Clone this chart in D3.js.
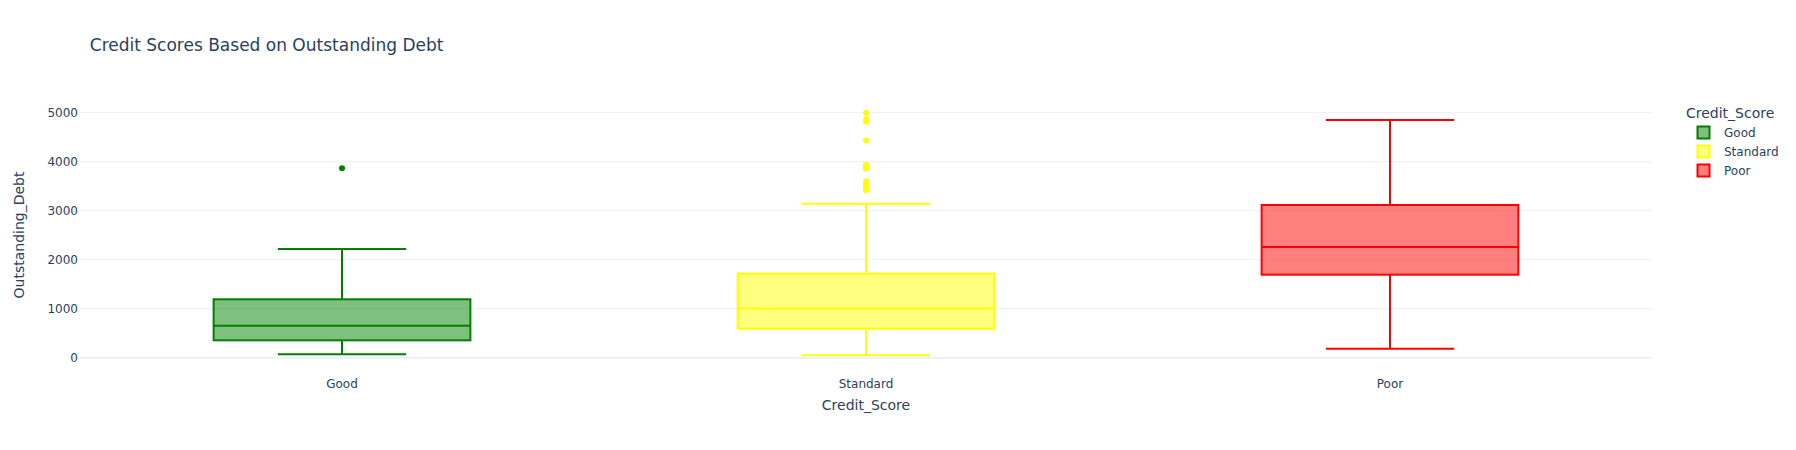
<!DOCTYPE html>
<html>
<head>
<meta charset="utf-8">
<script src="https://cdn.jsdelivr.net/npm/d3@7"></script>
<style>
  html, body { margin: 0; padding: 0; background: #fff; }
  svg { display: block; font-family: "DejaVu Sans", Verdana, sans-serif; }
</style>
</head>
<body>
<svg id="chart" width="1796" height="450"></svg>
<script>
// ---- data ----
const categories = ["Good", "Standard", "Poor"];
const colors = ["green", "yellow", "red"];
const fills = ["rgba(0,128,0,0.5)", "rgba(255,255,0,0.5)", "rgba(255,0,0,0.5)"];
const lowerFence = [69, 50, 184];
const q1 = [355, 593, 1694];
const median = [653, 1006, 2259];
const q3 = [1192, 1717, 3116];
const upperFence = [2218, 3140, 4851];
const outliersGood = [3865];
const outliersStandard = [4998, 4865, 4816, 4430, 3940, 3900, 3857, 3600, 3530, 3470, 3416];
const outliersPoor = [];
const yTicks = [0, 1000, 2000, 3000, 4000, 5000];

const outliers = [outliersGood, outliersStandard, outliersPoor];

const W = 1796, H = 450;
const margin = { left: 80, right: 144, top: 100, bottom: 80 };
const plotL = margin.left, plotR = W - margin.right, plotT = margin.top, plotB = H - margin.bottom;
const textColor = "#2a3f5f";
const gridColor = "#EBF0F8";
const fontFam = '"DejaVu Sans", Verdana, sans-serif';

const svg = d3.select("#chart");

const x = d3.scaleBand().domain(categories).range([plotL, plotR])
  .paddingInner(0.51).paddingOuter(0.255);
const y = d3.scaleLinear().domain([-251, 5259]).range([plotB, plotT]);

// gridlines
const grid = svg.append("g");
grid.selectAll("line").data(yTicks).join("line")
  .attr("x1", plotL).attr("x2", plotR)
  .attr("y1", d => y(d)).attr("y2", d => y(d))
  .attr("stroke", gridColor)
  .attr("stroke-width", d => d === 0 ? 2 : 1);

// y axis labels
const yAxis = d3.axisLeft(y).tickValues(yTicks).tickSize(0).tickPadding(2).tickFormat(d3.format("d"));
const gy = svg.append("g").attr("transform", `translate(${plotL},0)`).call(yAxis);
gy.select(".domain").remove();
gy.selectAll("text").attr("fill", textColor).style("font-size", "12px")
  .style("font-family", fontFam);

// x axis labels
const xAxis = d3.axisBottom(x).tickSize(0).tickPadding(9);
const gx = svg.append("g").attr("transform", `translate(0,${plotB})`).call(xAxis);
gx.select(".domain").remove();
gx.selectAll("text").attr("fill", textColor).style("font-size", "12px")
  .style("font-family", fontFam);

// boxes
const bw = x.bandwidth();
const boxes = svg.append("g").selectAll("g").data(categories).join("g");
boxes.each(function(cat, i) {
  const g = d3.select(this);
  const cx = x(cat) + bw / 2;
  const col = colors[i];
  // whiskers
  g.append("line").attr("x1", cx).attr("x2", cx).attr("y1", y(q3[i])).attr("y2", y(upperFence[i]))
    .attr("stroke", col).attr("stroke-width", 2);
  g.append("line").attr("x1", cx).attr("x2", cx).attr("y1", y(q1[i])).attr("y2", y(lowerFence[i]))
    .attr("stroke", col).attr("stroke-width", 2);
  g.append("line").attr("x1", cx - bw / 4).attr("x2", cx + bw / 4)
    .attr("y1", y(upperFence[i])).attr("y2", y(upperFence[i]))
    .attr("stroke", col).attr("stroke-width", 2);
  g.append("line").attr("x1", cx - bw / 4).attr("x2", cx + bw / 4)
    .attr("y1", y(lowerFence[i])).attr("y2", y(lowerFence[i]))
    .attr("stroke", col).attr("stroke-width", 2);
  // box
  g.append("rect").attr("x", x(cat)).attr("width", bw)
    .attr("y", y(q3[i])).attr("height", y(q1[i]) - y(q3[i]))
    .attr("fill", fills[i]).attr("stroke", col).attr("stroke-width", 2);
  // median
  g.append("line").attr("x1", x(cat)).attr("x2", x(cat) + bw)
    .attr("y1", y(median[i])).attr("y2", y(median[i]))
    .attr("stroke", col).attr("stroke-width", 2);
  // outliers
  g.selectAll("circle").data(outliers[i]).join("circle")
    .attr("cx", cx).attr("cy", d => y(d)).attr("r", 3).attr("fill", col);
});

// title
svg.append("text").attr("x", 89.8).attr("y", 50.7).attr("fill", textColor)
  .style("font-size", "17px").text("Credit Scores Based on Outstanding Debt");

// axis titles
svg.append("text").attr("x", (plotL + plotR) / 2).attr("y", 410).attr("text-anchor", "middle")
  .attr("fill", textColor).style("font-size", "14px").text("Credit_Score");
svg.append("text").attr("transform", `translate(24,${(plotT + plotB) / 2}) rotate(-90)`)
  .attr("text-anchor", "middle").attr("fill", textColor).style("font-size", "14px")
  .text("Outstanding_Debt");

// legend
const lg = svg.append("g");
lg.append("text").attr("x", 1686).attr("y", 118).attr("fill", textColor)
  .style("font-size", "14px").text("Credit_Score");
const items = lg.selectAll("g.item").data(categories).join("g").attr("class", "item")
  .attr("transform", (d, i) => `translate(1703.5,${132.5 + i * 19})`);
items.append("rect").attr("x", -6).attr("y", -6).attr("width", 12).attr("height", 12)
  .attr("fill", (d, i) => fills[i]).attr("stroke", (d, i) => colors[i]).attr("stroke-width", 2);
items.append("text").attr("x", 20.5).attr("y", 4.5).attr("fill", textColor)
  .style("font-size", "12px").text(d => d);
</script>
</body>
</html>
